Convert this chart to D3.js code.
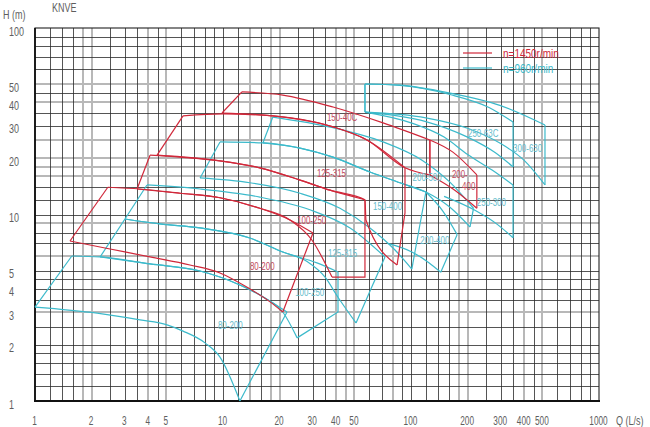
<!DOCTYPE html>
<html><head><meta charset="utf-8">
<script src="https://cdn.jsdelivr.net/npm/d3@7"></script>
<style>body{margin:0;background:#fff}</style>
</head><body><svg id="c" width="650" height="427"></svg>
<script>
// ---- axis / tick data ----
const xTickValues = [1,2,3,4,5,10,20,30,40,50,100,200,300,400,500,1000];
const yTickValues = [1,2,3,4,5,10,20,30,40,50,100];
const gridMult = [1.2,1.4,1.6,1.8,2,2.5,3,3.5,4,4.5,5,6,7,8,9,10];
const xGrayLines = [1.8,2,4,5,14,18,20,40,45,50,80,180,200,400,500];
const yGrayLines = [50,40,25,20,18,16,9,6,3];
const legendItems = ["n=1450r/min","n=960r/min"];

// ---- pump envelopes, n=1450 r/min (Q L/s, H m) ----
const red80_200 = {top:[[2.44,14.0],[3.62,13.7],[5.91,13.0],[9.64,12.3],[15.7,10.8],[22.7,9.35],[30.1,7.96]],
  bottom:[[1.535,7.21],[2.51,6.53],[4.09,5.92],[6.67,5.36],[9.64,4.86],[13.9,3.99],[17.8,3.40],[20.8,3.00]], right:[]};
const red100_250 = {top:[[4.09,20.8],[5.91,20.3],[9.64,19.4],[15.7,17.8],[25.7,15.3],[37.1,13.5],[56.9,12.0]],
  bottom:[[3.49,13.7],[5.91,13.0],[9.64,12.3],[15.7,10.8],[22.7,9.35],[29.7,7.3],[38.0,4.62]], right:[[56.9,4.62]]};
const red125_315 = {top:[[6.13,33.8],[10,34.6],[18.4,33.8],[38.5,29.5],[58.3,25.1],[92.9,17.8]],
  bottom:[[4.46,20.8],[9.64,19.4],[15.7,17.8],[25.7,15.3],[37.1,13.5],[56.9,12.0],[57.6,9.35],[84.3,5.36]], right:[[92.9,10.2]]};
const red150_400 = {top:[[12.6,45.4],[20.8,43.7],[38.5,37.7],[71.0,31.0],[126,25.1]],
  bottom:[[9.88,35.0],[18.4,33.8],[38.5,29.5],[58.3,25.1],[92.9,17.8],[126,16.3]], right:[]};
const red200_400 = {top:[[126,25.1],[167,21.6],[224,16.3]],
  bottom:[[126,16.3],[171,13.5],[224,10.8]], right:[]};

// ---- pump envelopes, n=960 r/min ----
const cyan80_200 = {top:[[1.57,5.99],[2.22,5.92],[4.09,5.43],[7.55,4.98],[12.3,4.19],[16.7,3.57],[21.9,3.00]],
  bottom:[[1,3.19],[2.14,2.96],[3.62,2.72],[5.04,2.56],[6.13,2.37],[8.02,2.05],[9.64,1.72],[12.3,1.0]], right:[]};
const cyan100_250 = {top:[[3.01,9.46],[4.62,8.9],[7.55,8.47],[13.9,7.48],[20.8,6.29],[31.6,5.5],[40.9,4.92]],
  bottom:[[2.22,5.92],[4.09,5.43],[7.55,4.98],[12.3,4.19],[16.7,3.57],[20.8,3.0],[24.8,2.18]], right:[[40.9,3.0]]};
const cyan125_315 = {top:[[3.94,14.4],[7.55,13.7],[15.7,12.4],[29.0,10.6],[47.4,8.47],[72.7,5.92]],
  bottom:[[3.01,9.46],[4.62,8.9],[7.55,8.47],[13.9,7.48],[20.8,6.29],[28,5.6],[35,4.6],[40.9,3.6],[51.0,2.62]], right:[]};
const cyan150_400 = {top:[[9.64,24.5],[16.3,24.2],[25.7,22.7],[38.5,20.3],[60.5,16.9],[87.4,14.8],[120,13.2]],
  bottom:[[7.55,15.7],[13.9,14.8],[25.7,13.0],[41.9,10.8],[60.5,8.47],[82.2,6.45],[101,5.1]], right:[]};
const cyan200_400 = {top:[[120,13.2],[148,10.4],[176,7.8]],
  bottom:[[75,7.0],[101,6.3],[125,5.5],[144,4.9]], right:[], left:false};
const cyan200_500 = {top:[[18.4,33.3],[38.5,29.2],[71,24.5],[115,19.5],[160,15.0],[215,10.8]],
  bottom:[[16.3,24.2],[25.7,22.7],[38.5,20.3],[60.5,16.9],[87.4,14.8],[120,13.2],[160,11.0],[206,8.57]], right:[]};
const cyan250_300 = {top:[[56.9,35.4],[100,31],[150,26],[200,21],[270,17.3],[349,14.4]],
  bottom:[[150,12.5],[220,10.5],[290,8.8],[349,7.5]], right:[], left:false};
const cyan250_630 = {top:[[56.9,50.1],[87.4,49.2],[161,44.0],[260,37.5],[349,31.3]],
  bottom:[[56.9,35.4],[120,31.5],[200,26],[280,21.5],[349,18.0]], right:[]};
const cyan300_630 = {top:[[56.9,50.1],[87.4,49.4],[161,44.8],[297,38.5],[516,30.2]],
  bottom:[[56.9,35.4],[120,33],[200,29],[300,24],[400,19.5],[516,14.4]], right:[]};

const redEnvelopes = [red80_200, red100_250, red125_315, red150_400, red200_400];
const cyanEnvelopes = [cyan80_200, cyan100_250, cyan125_315, cyan150_400, cyan200_400, cyan200_500, cyan250_300, cyan250_630, cyan300_630];

// ---- labels on the chart (text, Q, H) ----
const redLabels = [["150-40C",35.7,33.3],["125-315",31.6,16.6],["100-250",24.8,9.3],["80-200",13.9,5.3],["200-",165,16.4],["400",187,14.2]];
const cyanLabels = [["80-200",9.4,2.56],["100-250",24.2,3.84],["125-315",36.2,6.22],["150-400",62.8,11.1],["200-500",102,15.9],["200-400",112,7.3],["250-300",224,11.7],["250-63C",201,27.4],["300-630",349,22.7]];

// ---- drawing ----
const svg = d3.select("#c");
const x = d3.scaleLog().domain([1,1000]).range([35,599]);
const y = d3.scaleLog().domain([1,100]).range([401,28]);
const RED = "#d0283a", CYAN = "#3cbacb";
const FONT = "'Liberation Sans',Arial,sans-serif";
const TXT = "#5e5e5e";

// narrow CAD-like lettering: horizontal scale about the text anchor
function squeeze(sel, k){
  sel.each(function(){
    const t = d3.select(this);
    const px = +(t.attr("x") || 0);
    t.attr("x", 0).attr("transform", `translate(${px},0) scale(${k},1)`);
  });
}

// grid
const gx = [], gy = [];
[1,10,100].forEach(d => gridMult.forEach(m => gx.push(+(d*m).toPrecision(3))));
[1,10].forEach(d => gridMult.forEach(m => gy.push(+(d*m).toPrecision(3))));
const gxBlack = gx.filter(v => !xGrayLines.includes(v) && v < 1000);
const gyBlack = gy.filter(v => !yGrayLines.includes(v) && v < 100);
const grid = svg.append("g");
grid.selectAll(".gvx").data(xGrayLines).join("line")
  .attr("x1",d=>Math.round(x(d))).attr("x2",d=>Math.round(x(d))).attr("y1",28).attr("y2",401)
  .attr("stroke","#b8b8b8").attr("stroke-width",2);
grid.selectAll(".gvy").data(yGrayLines).join("line")
  .attr("y1",d=>Math.round(y(d))).attr("y2",d=>Math.round(y(d))).attr("x1",35).attr("x2",599)
  .attr("stroke","#b8b8b8").attr("stroke-width",2);
grid.selectAll(".vx").data(gxBlack).join("line")
  .attr("x1",d=>Math.round(x(d))+0.5).attr("x2",d=>Math.round(x(d))+0.5).attr("y1",28).attr("y2",401)
  .attr("stroke","#2a2a2a").attr("stroke-width",0.8);
grid.selectAll(".vy").data(gyBlack).join("line")
  .attr("y1",d=>Math.round(y(d))+0.5).attr("y2",d=>Math.round(y(d))+0.5).attr("x1",35).attr("x2",599)
  .attr("stroke","#2a2a2a").attr("stroke-width",0.8);
// frame
svg.append("rect").attr("x",35).attr("y",28).attr("width",564).attr("height",373)
  .attr("fill","none").attr("stroke","#222").attr("stroke-width",1.1);
svg.append("line").attr("x1",34).attr("x2",600).attr("y1",401).attr("y2",401).attr("stroke","#111").attr("stroke-width",1.8);
svg.append("line").attr("x1",35).attr("x2",35).attr("y1",28).attr("y2",402).attr("stroke","#111").attr("stroke-width",1.8);

// tick labels through D3 axes (labels only)
const xAxis = d3.axisBottom(x).tickValues(xTickValues).tickFormat(d3.format("d")).tickSize(0).tickPadding(0);
const gX = svg.append("g").attr("transform","translate(-1,416)").call(xAxis);
gX.select(".domain").remove();
gX.selectAll("text").attr("font-family",FONT).attr("font-size",12.5).attr("fill",TXT).attr("dy","0.32em").attr("y",5);
squeeze(gX.selectAll("text"), 0.66);
const yAxis = d3.axisLeft(y).tickValues(yTickValues).tickFormat(d3.format("d")).tickSize(0).tickPadding(0);
const gY = svg.append("g").attr("transform","translate(9,3)").call(yAxis);
gY.select(".domain").remove();
gY.selectAll("text").attr("font-family",FONT).attr("font-size",12.5).attr("fill",TXT).attr("text-anchor","start").attr("x",0);
squeeze(gY.selectAll("text"), 0.72);

const titles = svg.append("g").attr("font-family",FONT).attr("font-size",12.5).attr("fill",TXT);
titles.append("text").attr("x",3).attr("y",19).text("H (m)");
titles.append("text").attr("x",52).attr("y",12).text("KNVE");
titles.append("text").attr("x",616).attr("y",425).text("Q (L/s)");
squeeze(titles.selectAll("text"), 0.72);

// envelopes
const curve = d3.line().x(d=>x(d[0])).y(d=>y(d[1])).curve(d3.curveMonotoneX);
const straight = d3.line().x(d=>x(d[0])).y(d=>y(d[1]));
function drawEnv(env, color){
  const g = svg.append("g").attr("fill","none").attr("stroke",color).attr("stroke-width",1.2);
  g.append("path").attr("d",curve(env.top));
  g.append("path").attr("d",curve(env.bottom));
  if (env.left !== false) g.append("path").attr("d",straight([env.bottom[0],env.top[0]]));
  g.append("path").attr("d",straight([env.top[env.top.length-1],...env.right,env.bottom[env.bottom.length-1]]));
}
cyanEnvelopes.forEach(e=>drawEnv(e,CYAN));
redEnvelopes.forEach(e=>drawEnv(e,RED));

// shape labels
const rl = svg.append("g").selectAll("text").data(redLabels).join("text")
  .attr("x",d=>x(d[1])).attr("y",d=>y(d[2])).attr("dy","0.35em").text(d=>d[0])
  .attr("font-family",FONT).attr("font-size",11).attr("fill","#c24a5c");
squeeze(rl, 0.72);
const cl = svg.append("g").selectAll("text").data(cyanLabels).join("text")
  .attr("x",d=>x(d[1])).attr("y",d=>y(d[2])).attr("dy","0.35em").text(d=>d[0])
  .attr("font-family",FONT).attr("font-size",11).attr("fill","#66bccb");
squeeze(cl, 0.72);

// legend
const lg = svg.append("g");
[RED,CYAN].forEach((c,i)=>{
  lg.append("line").attr("x1",463).attr("x2",492).attr("y1",53+i*15).attr("y2",53+i*15).attr("stroke",c).attr("stroke-width",1.2);
  const t = lg.append("text").attr("x",503).attr("y",54+i*15).attr("dy","0.35em").text(legendItems[i])
    .attr("font-family",FONT).attr("font-size",12.5).attr("fill",c);
  squeeze(t, 0.8);
});
</script></body></html>
